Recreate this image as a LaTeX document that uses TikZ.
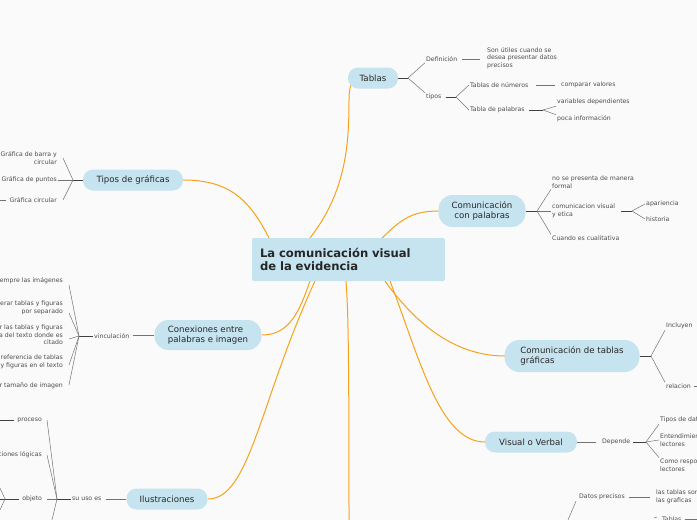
\documentclass[tikz,border=0pt]{standalone}
\usepackage{fontspec}
\setmainfont{DejaVu Sans}
\begin{document}
\begin{tikzpicture}[x=1pt,y=-1pt,
  pill/.style={fill=cyanbg,rounded corners=10pt,inner xsep=9pt,inner ysep=3pt,minimum height=21pt,font=\fontsize{8.6}{10.5}\selectfont,align=left,text=black!85},
  leaf/.style={font=\fontsize{6.2}{7.6}\selectfont,text=black!70,inner sep=1pt,align=left},
  leafr/.style={leaf,anchor=east,align=right},
  leafl/.style={leaf,anchor=west},
  br/.style={draw=orgc,line width=1pt},
  gl/.style={draw=black!55,line width=0.5pt},
  gk/.style={draw=black!75,line width=1pt}]
\definecolor{cyanbg}{HTML}{C6E4F0}
\definecolor{orgc}{HTML}{F7A21B}
\fill[black!2] (0,0) rectangle (697,520);
\useasboundingbox (0,0) rectangle (697,520);
\clip (0,0) rectangle (697,520);
% main branches
\coordinate (cb) at (349,521);
\draw[br] (345,270) .. controls (348,300) and (349,330) .. (cb);
\draw[br] (300,250) .. controls (345,200) and (349,150) .. (349,100) .. controls (349,85) and (352,78) .. (362,78);
\draw[br] (270,240) .. controls (250,200) and (230,180) .. (183,180);
\draw[br] (375,245) .. controls (400,220) and (410,211) .. (439,211);
\draw[br] (310,281) .. controls (300,310) and (290,335) .. (262,335);
\draw[br] (385,281) .. controls (420,330) and (460,356) .. (505,356);
\draw[br] (390,281) .. controls (420,360) and (440,442) .. (485,442);
\draw[br] (315,281) .. controls (260,400) and (250,499) .. (208,499);
\node[fill=cyanbg,rounded corners=2pt,minimum width=193pt,minimum height=43pt,text width=177pt,font=\bfseries\fontsize{11.6}{13.5}\selectfont,align=left,text=black!85] (c) at (348.5,259.5) {La comunicación visual\\de la evidencia};
\node[pill,minimum width=50pt] (t) at (373,78) {Tablas};
\node[pill,minimum width=100pt] (tg) at (133,180) {Tipos de gráficas};
\node[pill,minimum width=87pt,minimum height=32pt,rounded corners=14pt,align=center] (cp) at (482,211) {Comunicación\\con palabras};
\node[pill,minimum width=107pt,minimum height=30pt,rounded corners=14pt] (cx) at (208,335) {Conexiones entre\\palabras e imagen};
\node[pill,minimum width=135pt,minimum height=32pt,rounded corners=15pt,inner xsep=12pt] (ct) at (572,356) {Comunicación de tablas\\gráficas};
\node[pill,minimum width=92pt] (vv) at (531,442) {Visual o Verbal};
\node[pill,minimum width=81pt] (il) at (167,499) {Ilustraciones};
% Tablas
\coordinate (f1) at (408,78);
\draw[gk] (t.east) -- (f1);
\node[leafl] (def) at (425,59) {Definición};
\node[leafl] (su) at (486,58) {Son útiles cuando se\\desea presentar datos\\precisos};
\node[leafl] (ti) at (425,97) {tipos};
\node[leafl] (tn) at (469,85) {Tablas de números};
\node[leafl] (cv) at (560,85) {comparar valores};
\node[leafl] (tp) at (469,110) {Tabla de palabras};
\node[leafl] (vd) at (556,102) {variables dependientes};
\node[leafl] (pi) at (556,119) {poca información};
\draw[gl] (f1) -- (def.south west); \draw[gl] (f1) -- (ti.north west);
\draw[gl] (462,59) -- (480,59);
\coordinate (f2) at (456,97);
\draw[gk] (ti.east) ++(3,0) -- (f2);
\draw[gl] (f2) -- (tn.west); \draw[gl] (f2) -- (tp.west);
\draw[gl] (536,85) -- (555,85);
\coordinate (f3) at (543,110);
\draw[gk] (tp.east) ++(3,0) -- (f3);
\draw[gl] (f3) -- (vd.south west); \draw[gl] (f3) -- (pi.north west);
% Comunicacion con palabras
\coordinate (f4) at (537,211);
\draw[gk] (cp.east) -- (f4);
\node[leafl] (ns) at (551,182) {no se presenta de manera\\formal};
\node[leafl] (ce) at (551,211) {comunicacion visual\\y etica};
\node[leafl] (cc) at (551,238) {Cuando es cualitativa};
\node[leafl] (ap) at (645,204) {apariencia};
\node[leafl] (hi) at (645,219) {historia};
\draw[gl] (f4) -- (ns.south west); \draw[gl] (f4) -- (ce.west); \draw[gl] (f4) -- (cc.north west);
\coordinate (f5) at (632,211);
\draw[gk] (621,211) -- (f5);
\draw[gl] (f5) -- (ap.west); \draw[gl] (f5) -- (hi.west);
% Tipos de graficas
\coordinate (f6) at (73,180);
\draw[gk] (tg.west) -- (f6);
\node[leafr] (gb) at (58,158) {Gráfica de barra y\\circular};
\node[leafr] (gp) at (58,180) {Gráfica de puntos};
\node[leafr] (gc) at (58,200) {Gráfica circular};
\draw[gl] (f6) -- (63,158); \draw[gl] (f6) -- (gp.east); \draw[gl] (f6) -- (63,200);
\draw[gl] (gc.west) ++(-2,0) -- ++(-6,0);
% Conexiones
\node[leafl] (vi) at (93,336) {vinculación};
\draw[gl] (cx.west) -- ++(-21,0);
\coordinate (f7) at (79,336);
\draw[gk] (vi.west) -- (f7);
\node[leafr] (l1) at (64,281) {Numerar siempre las imágenes};
\node[leafr] (l2) at (64,308) {Numerar tablas y figuras\\por separado};
\node[leafr] (l3) at (64,335) {Colocar las tablas y figuras\\cerca del texto donde es\\citado};
\node[leafr] (l4) at (64,362) {Hacer referencia de tablas\\y figuras en el texto};
\node[leafr] (l5) at (64,386) {Adecuar tamaño de imagen};
\foreach \y in {285,313,339,365,385} \draw[gl] (f7) -- (69,\y);
% Ilustraciones
\node[leafl] (ue) at (71,499) {su uso es};
\draw[gl] (il.west) -- ++(-20,0);
\coordinate (f8) at (57,499);
\draw[gk] (ue.west) -- (f8);
\node[leafr] (pr) at (43,420) {proceso};
\node[leafr] (rl) at (43,455) {Relaciones lógicas};
\node[leafr] (ob) at (43,499) {objeto};
\draw[gl] (f8) -- (47,420); \draw[gl] (f8) -- (47,455); \draw[gl] (f8) -- (47,499); \draw[gl] (f8) -- (52,520);
\draw[gk] (pr.west) ++(-2,0) -- (0,420);
\draw[gk] (ob.west) ++(-2,0) -- (0,499);
\draw[gl] (0,488) -- (5,499) -- (0,510);
% Comunicacion de tablas graficas
\coordinate (f9) at (651,356);
\draw[gk] (ct.east) -- (f9);
\node[leafl] (in) at (665,326) {Incluyen};
\node[leafl] (re) at (665,386) {relacion};
\draw[gl] (f9) -- (in.south west); \draw[gl] (f9) -- (re.north west);
\draw[gl] (re.east) ++(2,0) -- ++(10,0);
% Visual o Verbal
\node[leafl] (de) at (601,442) {Depende};
\draw[gl] (vv.east) -- ++(19,0);
\coordinate (f10) at (646,442);
\draw[gk] (de.east) ++(2,0) -- (f10);
\node[leafl] (td) at (659,420) {Tipos de datos};
\node[leafl] (el) at (659,440) {Entendimiento de los\\lectores};
\node[leafl] (cr) at (659,465) {Como responden los\\lectores};
\draw[gl] (f10) -- (td.south west); \draw[gl] (f10) -- (el.west); \draw[gl] (f10) -- (cr.north west);
% bottom
\node[leafl] (dp) at (578,497) {Datos precisos};
\node[leafl] (ls) at (655,497) {las tablas son\\las graficas};
\node[leafl] (tb) at (661,519) {Tablas};
\draw[gl] (dp.east) ++(3,0) -- (650,497);
\draw[gl] (dp.south west) ++(-2,0) -- (568,520);
\draw[gl] (tb.west) ++(-4,-2) -- ++(-3,1);
\draw[gl] (tb.east) ++(2,0) -- ++(12,0);
\end{tikzpicture}
\end{document}
